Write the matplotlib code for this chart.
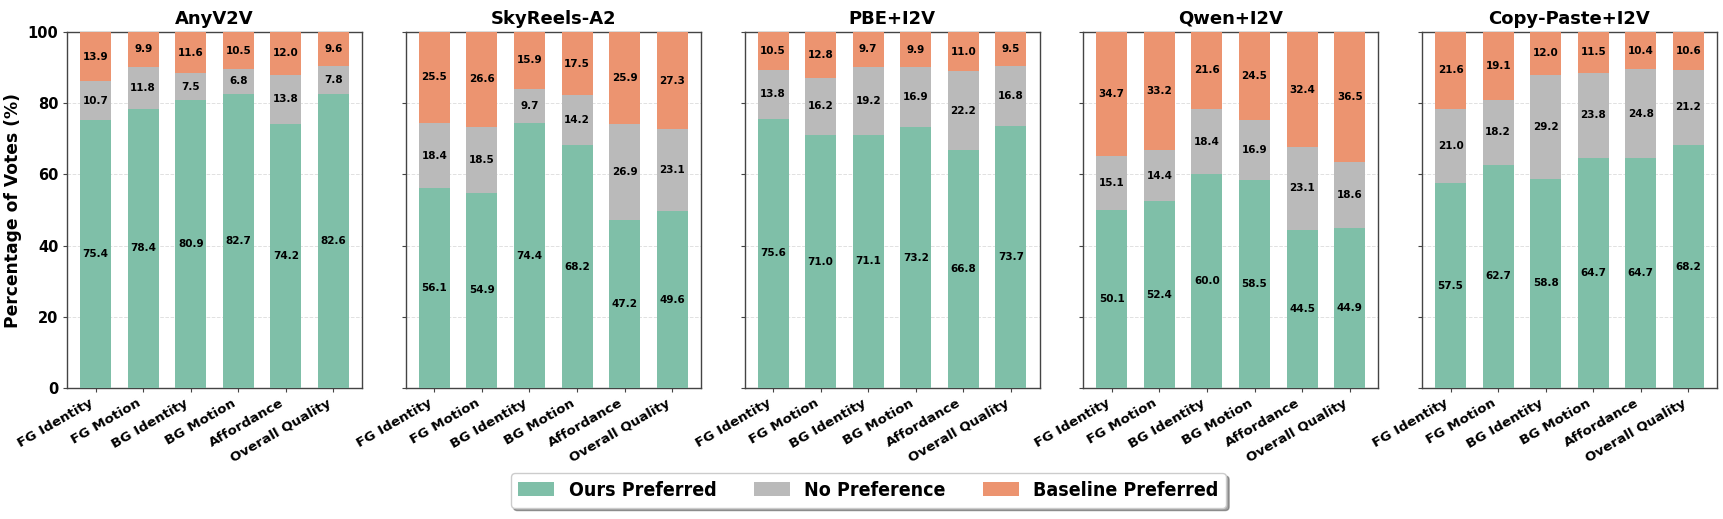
import matplotlib
matplotlib.use("Agg")
import matplotlib.pyplot as plt
import numpy as np
from matplotlib.patches import Patch
from matplotlib import font_manager as fm
import glob

methods = ["AnyV2V", "SkyReels-A2", "PBE+I2V", "Qwen+I2V", "Copy-Paste+I2V"]
criteria = ["FG Identity", "FG Motion", "BG Identity", "BG Motion", "Affordance", "Overall Quality"]

ours = {
    "AnyV2V":         [75.4, 78.4, 80.9, 82.7, 74.2, 82.6],
    "SkyReels-A2":    [56.1, 54.9, 74.4, 68.2, 47.2, 49.6],
    "PBE+I2V":        [75.6, 71.0, 71.1, 73.2, 66.8, 73.7],
    "Qwen+I2V":       [50.1, 52.4, 60.0, 58.5, 44.5, 44.9],
    "Copy-Paste+I2V": [57.5, 62.7, 58.8, 64.7, 64.7, 68.2],
}
no_pref = {
    "AnyV2V":         [10.7, 11.8, 7.5, 6.8, 13.8, 7.8],
    "SkyReels-A2":    [18.4, 18.5, 9.7, 14.2, 26.9, 23.1],
    "PBE+I2V":        [13.8, 16.2, 19.2, 16.9, 22.2, 16.8],
    "Qwen+I2V":       [15.1, 14.4, 18.4, 16.9, 23.1, 18.6],
    "Copy-Paste+I2V": [21.0, 18.2, 29.2, 23.8, 24.8, 21.2],
}
baseline = {
    "AnyV2V":         [13.9, 9.9, 11.6, 10.5, 12.0, 9.6],
    "SkyReels-A2":    [25.5, 26.6, 15.9, 17.5, 25.9, 27.3],
    "PBE+I2V":        [10.5, 12.8, 9.7, 9.9, 11.0, 9.5],
    "Qwen+I2V":       [34.7, 33.2, 21.6, 24.5, 32.4, 36.5],
    "Copy-Paste+I2V": [21.6, 19.1, 12.0, 11.5, 10.4, 10.6],
}
series_names = ["Ours Preferred", "No Preference", "Baseline Preferred"]
colors = ["#7fbfa8", "#bababa", "#ec9470"]

W, H = 1724, 519
fig = plt.figure(figsize=(W / 100, H / 100), dpi=100)

left0, right_last = 67 / W, 1717 / W
ax_w = 295 / W
gap = ((right_last - left0) - 5 * ax_w) / 4
bottom = 1 - 388 / H
top = 1 - 32 / H

x = np.arange(len(criteria))
bw = 0.65
for i, m in enumerate(methods):
    ax = fig.add_axes([left0 + i * (ax_w + gap), bottom, ax_w, top - bottom])
    bottoms = np.zeros(len(criteria))
    for vals, c in zip([ours[m], no_pref[m], baseline[m]], colors):
        vals = np.array(vals)
        ax.bar(x, vals, bw, bottom=bottoms, color=c, zorder=3)
        for xi, b, v in zip(x, bottoms, vals):
            ax.text(xi, b + v / 2, f"{v:.1f}", ha="center", va="center",
                    fontsize=7.5, fontweight="bold", color="black", zorder=4)
        bottoms = bottoms + vals
    ax.set_xlim(-0.6, len(criteria) - 0.4)
    ax.set_ylim(0, 100)
    ax.set_yticks([0, 20, 40, 60, 80, 100])
    ax.grid(axis="y", linestyle="--", color="#cccccc", alpha=0.6, linewidth=0.7, zorder=0)
    ax.set_axisbelow(True)
    ax.set_title(m, fontsize=13, fontweight="bold", pad=6)
    ax.set_xticks(x)
    ax.set_xticklabels(criteria, rotation=30, ha="right", fontsize=9.7, fontweight="bold")
    ax.tick_params(axis="both", length=3.2, pad=3, color="#444444")
    for s in ax.spines.values():
        s.set_color("#444444")
        s.set_linewidth(1.0)
    if i == 0:
        ax.set_ylabel("Percentage of Votes (%)", fontsize=12.3, fontweight="bold", labelpad=4)
        for lab in ax.get_yticklabels():
            lab.set_fontweight("bold")
            lab.set_fontsize(10.5)
    else:
        ax.set_yticklabels([])

cond = [p for p in glob.glob("/usr/share/fonts/**/DejaVuSansCondensed-Bold.ttf", recursive=True)]
if not cond:
    cond = [f.fname for f in fm.fontManager.ttflist if f.fname.endswith("DejaVuSansCondensed-Bold.ttf")]
if cond:
    leg_prop = fm.FontProperties(fname=cond[0], size=14)
else:
    leg_prop = fm.FontProperties(family="DejaVu Sans", weight="bold", size=13)

handles = [Patch(facecolor=c, label=n) for c, n in zip(colors, series_names)]
fig.legend(handles=handles, loc="center", bbox_to_anchor=(868.5 / W, 1 - 490.5 / H), ncol=3,
           frameon=True, shadow=True, fancybox=True, prop=leg_prop,
           columnspacing=1.9, handlelength=1.85, handletextpad=0.75)

fig.savefig("out.png", dpi=100)
